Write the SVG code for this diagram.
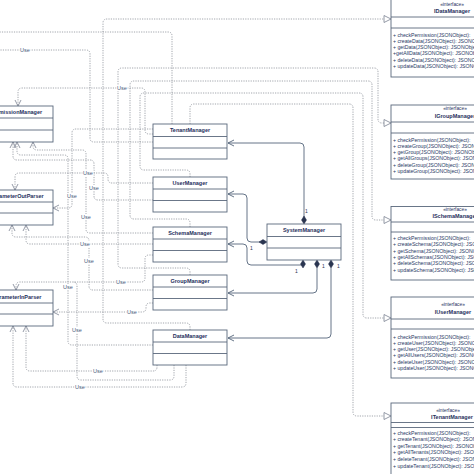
<svg xmlns="http://www.w3.org/2000/svg" width="474" height="474" viewBox="0 0 474 474">
<style>
.box{fill:#fff;stroke:#5a687c;stroke-width:0.9}
.sep{stroke:#5a687c;stroke-width:0.9}
.nm{font-family:"Liberation Sans",Arial,sans-serif;font-size:5.5px;font-weight:bold;fill:#1f2f5c;text-anchor:middle}
.st{font-family:"Liberation Sans",Arial,sans-serif;font-size:4.8px;fill:#1f2f5c;text-anchor:middle}
.mt{font-family:"Liberation Sans",Arial,sans-serif;font-size:5.2px;fill:#2a3a66}
.dep{fill:none;stroke:#8a8f98;stroke-width:0.8;stroke-dasharray:1.2 1.2}
.arr{fill:none;stroke:#7a8090;stroke-width:0.8}
.tri{fill:#fff;stroke:#7a8090;stroke-width:0.8}
.comp{fill:none;stroke:#55657b;stroke-width:0.9}
.dia{fill:#2a3550;stroke:#2a3550;stroke-width:0.5}
.one{font-family:"Liberation Sans",Arial,sans-serif;font-size:5px;fill:#2a3550}
.use{font-family:"Liberation Sans",Arial,sans-serif;font-size:5.5px;fill:#4a5a7a;text-anchor:middle}
.lbg{fill:#fff}
</style>
<rect x="0" y="0" width="474" height="474" fill="#fff"/>

<g id="connectors">
  <!-- realizations -->
  <path class="dep" d="M190,330 V327 Q190,323 186,323 H107 Q103,323 103,319 V23 Q103,19 107,19 H384"/>
  <path class="dep" d="M190,275 V272 Q190,268 186,268 H122 Q118,268 118,264 V72 Q118,68 122,68 H374 Q378,68 378,72 V119 Q378,123 382,123 H384"/>
  <path class="dep" d="M190,227 V223 Q190,219 186,219 H134 Q130,219 130,215 V85 Q130,81 134,81 H368 Q372,81 372,85 V216 Q372,220 376,220 H384"/>
  <path class="dep" d="M190,177 V174 Q190,170 186,170 H144 Q140,170 140,166 V97 Q140,93 144,93 H359 Q363,93 363,97 V314 Q363,318 367,318 H384"/>
  <path class="dep" d="M190,124 V108 Q190,104 194,104 H349 Q353,104 353,108 V412 Q353,416 357,416 H384"/>
  <polygon class="tri" points="391,19 384,15.5 384,22.5"/>
  <polygon class="tri" points="391,123 384,119.5 384,126.5"/>
  <polygon class="tri" points="391,220 384,216.5 384,223.5"/>
  <polygon class="tri" points="391,318 384,314.5 384,321.5"/>
  <polygon class="tri" points="391,416 384,412.5 384,419.5"/>

  <!-- use dependencies -->
  <path class="dep" d="M153,142 H94 Q90,142 90,138 V54 Q90,50 86,50 H-2"/>
  <path class="dep" d="M172,124 V36 Q172,32 168,32 H-2"/>
  <path class="dep" d="M153,134 H149 Q145,134 145,130 V92 Q145,88 141,88 H22 Q18,88 18,92 V106"/>
  <path class="dep" d="M153,183 H112 Q108,183 108,179 V177 Q108,173 104,173 H19 Q15,173 15,177 V190"/>
  <path class="dep" d="M153,129 H76 Q72,129 72,133 V204 Q72,208 68,208 H53"/>
  <path class="dep" d="M153,200 H98 Q94,200 94,196 V164 Q94,160 90,160 H17 Q13,160 13,156 V142"/>
  <path class="dep" d="M153,233 H90 Q86,233 86,229 V154 Q86,150 82,150 H37 Q33,150 33,146 V142"/>
  <path class="dep" d="M153,345 H72 Q68,345 68,341 V159 Q68,155 64,155 H21 Q17,155 17,151 V142"/>
  <path class="dep" d="M153,244 H30 Q26,244 26,240 V225"/>
  <path class="dep" d="M153,290 H93 Q89,290 89,286 V241 Q89,237 85,237 H16 Q12,237 12,233 V225"/>
  <path class="dep" d="M153,255 H149 Q145,255 145,259 V278 Q145,282 141,282 H20 Q16,282 16,286 V290"/>
  <path class="dep" d="M174,365 V376 Q174,380 170,380 H81 Q77,380 77,376 V286 Q77,282 73,282"/>
  <path class="dep" d="M153,303 H150 Q146,303 146,307 V308 Q146,312 142,312 H53"/>
  <path class="dep" d="M186,365 V383 Q186,387 182,387 H17 Q13,387 13,383 V326"/>
  <path class="dep" d="M157,365 V367 Q157,371 153,371 H30 Q26,371 26,367 V326"/>

  <polyline class="arr" points="15,100 18,106 21,100"/>
  <polyline class="arr" points="12,184 15,190 18,184"/>
  <polyline class="arr" points="13,284 16,290 19,284"/>
  <polyline class="arr" points="59,205 53,208 59,211"/>
  <polyline class="arr" points="59,309 53,312 59,315"/>
  <polyline class="arr" points="10,148 13,142 16,148"/>
  <polyline class="arr" points="14,148 17,142 20,148"/>
  <polyline class="arr" points="30,148 33,142 36,148"/>
  <polyline class="arr" points="9,231 12,225 15,231"/>
  <polyline class="arr" points="23,231 26,225 29,231"/>
  <polyline class="arr" points="10,332 13,326 16,332"/>
  <polyline class="arr" points="23,332 26,326 29,332"/>

  <g>
    <rect class="lbg" x="19.5" y="47" width="11" height="6"/><text class="use" x="25" y="52">Use</text>
    <rect class="lbg" x="116.5" y="85" width="11" height="6"/><text class="use" x="122" y="90">Use</text>
    <rect class="lbg" x="82.5" y="170" width="11" height="6"/><text class="use" x="88" y="175">Use</text>
    <rect class="lbg" x="88.5" y="185" width="11" height="6"/><text class="use" x="94" y="190">Use</text>
    <rect class="lbg" x="66.5" y="193" width="11" height="6"/><text class="use" x="72" y="198">Use</text>
    <rect class="lbg" x="80.5" y="214" width="11" height="6"/><text class="use" x="86" y="219">Use</text>
    <rect class="lbg" x="79.5" y="241" width="11" height="6"/><text class="use" x="85" y="246">Use</text>
    <rect class="lbg" x="83.5" y="258" width="11" height="6"/><text class="use" x="89" y="263">Use</text>
    <rect class="lbg" x="115.5" y="279" width="11" height="6"/><text class="use" x="121" y="284">Use</text>
    <rect class="lbg" x="62.5" y="284" width="11" height="6"/><text class="use" x="68" y="289">Use</text>
    <rect class="lbg" x="126.5" y="309" width="11" height="6"/><text class="use" x="132" y="314">Use</text>
    <rect class="lbg" x="71.5" y="327" width="11" height="6"/><text class="use" x="77" y="332">Use</text>
    <rect class="lbg" x="92.5" y="368" width="11" height="6"/><text class="use" x="98" y="373">Use</text>
    <rect class="lbg" x="74.5" y="384" width="11" height="6"/><text class="use" x="80" y="389">Use</text>
  </g>

  <!-- compositions -->
  <path class="comp" d="M304,220 V147 Q304,143 300,143 H228"/>
  <path class="comp" d="M228,194 H243 Q247,194 247,198 V238 Q247,242 251,242 H260"/>
  <path class="comp" d="M228,244 H243 Q247,244 247,248 V261 Q247,265 251,265 H303"/>
  <path class="comp" d="M228,293 H313 Q317,293 317,289 V268"/>
  <path class="comp" d="M228,338 H327 Q331,338 331,334 V268"/>
  <polyline class="comp" points="234,140 228,143 234,146"/>
  <polyline class="comp" points="234,191 228,194 234,197"/>
  <polyline class="comp" points="234,241 228,244 234,247"/>
  <polyline class="comp" points="234,290 228,293 234,296"/>
  <polyline class="comp" points="234,335 228,338 234,341"/>
  <polygon class="dia" points="304,224 301.5,220 304,216 306.5,220"/>
  <polygon class="dia" points="267,242 263,239.5 259,242 263,244.5"/>
  <polygon class="dia" points="303,260 305.5,264 303,268 300.5,264"/>
  <polygon class="dia" points="317,260 319.5,264 317,268 314.5,264"/>
  <polygon class="dia" points="331,260 333.5,264 331,268 328.5,264"/>
  <text class="one" x="305" y="213">1</text>
  <text class="one" x="250" y="250">1</text>
  <text class="one" x="295" y="273">1</text>
  <text class="one" x="322" y="268">1</text>
  <text class="one" x="337" y="268">1</text>
</g>

<g id="PermissionManager"><rect class="box" x="-21" y="106" width="74" height="36"/><line class="sep" x1="-21" y1="118" x2="53" y2="118"/><line class="sep" x1="-21" y1="130" x2="53" y2="130"/><text class="nm" x="16" y="114">PermissionManager</text></g>
<g id="ParameterOutParser"><rect class="box" x="-21" y="190" width="74" height="35"/><line class="sep" x1="-21" y1="202" x2="53" y2="202"/><line class="sep" x1="-21" y1="213" x2="53" y2="213"/><text class="nm" x="17" y="198">ParameterOutParser</text></g>
<g id="ParameterInParser"><rect class="box" x="-21" y="290" width="74" height="36"/><line class="sep" x1="-21" y1="303" x2="53" y2="303"/><line class="sep" x1="-21" y1="314" x2="53" y2="314"/><text class="nm" x="17" y="298.5">ParameterInParser</text></g>

<g id="TenantManager"><rect class="box" x="153" y="124" width="74" height="35"/><line class="sep" x1="153" y1="136.5" x2="227" y2="136.5"/><line class="sep" x1="153" y1="148" x2="227" y2="148"/><text class="nm" x="190" y="132.2">TenantManager</text></g>
<g id="UserManager"><rect class="box" x="153" y="177" width="74" height="35"/><line class="sep" x1="153" y1="189" x2="227" y2="189"/><line class="sep" x1="153" y1="200.5" x2="227" y2="200.5"/><text class="nm" x="190" y="185">UserManager</text></g>
<g id="SchemaManager"><rect class="box" x="153" y="227" width="74" height="35"/><line class="sep" x1="153" y1="239" x2="227" y2="239"/><line class="sep" x1="153" y1="250.5" x2="227" y2="250.5"/><text class="nm" x="190" y="235">SchemaManager</text></g>
<g id="GroupManager"><rect class="box" x="153" y="275" width="74" height="35"/><line class="sep" x1="153" y1="287" x2="227" y2="287"/><line class="sep" x1="153" y1="298.5" x2="227" y2="298.5"/><text class="nm" x="190" y="283">GroupManager</text></g>
<g id="DataManager"><rect class="box" x="153" y="330" width="74" height="35"/><line class="sep" x1="153" y1="342" x2="227" y2="342"/><line class="sep" x1="153" y1="353.5" x2="227" y2="353.5"/><text class="nm" x="190" y="338">DataManager</text></g>
<g id="SystemManager"><rect class="box" x="267" y="224" width="74" height="36"/><line class="sep" x1="267" y1="236.5" x2="341" y2="236.5"/><line class="sep" x1="267" y1="248" x2="341" y2="248"/><text class="nm" x="304" y="232.2">SystemManager</text></g>

<g id="IDataManager"><rect class="box" x="391" y="-1" width="130" height="78"/><line class="sep" x1="391" y1="17" x2="521" y2="17"/><line class="sep" x1="391" y1="28" x2="521" y2="28"/>
<text class="st" x="452" y="5.7">«interface»</text><text class="nm" x="452" y="13">IDataManager</text>
<text class="mt" x="393" y="36.8">+ checkPermission(JSONObject):</text>
<text class="mt" x="393" y="43">+ createData(JSONObject): JSONObject</text>
<text class="mt" x="393" y="49.2">+ getData(JSONObject): JSONObject</text>
<text class="mt" x="393" y="55.4">+getAllData(JSONObject): JSONObject</text>
<text class="mt" x="393" y="61.6">+ deleteData(JSONObject): JSONObject</text>
<text class="mt" x="393" y="67.8">+ updateData(JSONObject): JSONObject</text></g>

<g id="IGroupManager"><rect class="box" x="391" y="105" width="130" height="74"/><line class="sep" x1="391" y1="122" x2="521" y2="122"/><line class="sep" x1="391" y1="133" x2="521" y2="133"/>
<text class="st" x="455" y="110.2">«interface»</text><text class="nm" x="455" y="118">IGroupManager</text>
<text class="mt" x="393" y="141.8">+ checkPermission(JSONObject):</text>
<text class="mt" x="393" y="148">+ createGroup(JSONObject): JSONObject</text>
<text class="mt" x="393" y="154.2">+ getGroup(JSONObject): JSONObject</text>
<text class="mt" x="393" y="160.4">+ getAllGroups(JSONObject): JSONObject</text>
<text class="mt" x="393" y="166.6">+ deleteGroup(JSONObject): JSONObject</text>
<text class="mt" x="393" y="172.8">+ updateGroup(JSONObject): JSONObject</text></g>

<g id="ISchemaManager"><rect class="box" x="391" y="206.5" width="130" height="73.5"/><line class="sep" x1="391" y1="222" x2="521" y2="222"/><line class="sep" x1="391" y1="232" x2="521" y2="232"/>
<text class="st" x="455" y="210.8">«interface»</text><text class="nm" x="455" y="217.5">ISchemaManager</text>
<text class="mt" x="393" y="239.8">+ checkPermission(JSONObject):</text>
<text class="mt" x="393" y="246.2">+ createSchema(JSONObject): JSONObject</text>
<text class="mt" x="393" y="252.6">+ getSchema(JSONObject): JSONObject</text>
<text class="mt" x="393" y="259">+ getAllSchemas(JSONObject): JSONObject</text>
<text class="mt" x="393" y="265.4">+ deleteSchema(JSONObject): JSONObject</text>
<text class="mt" x="393" y="271.8">+ updateSchema(JSONObject): JSONObject</text></g>

<g id="IUserManager"><rect class="box" x="391" y="297" width="130" height="81"/><line class="sep" x1="391" y1="319" x2="521" y2="319"/><line class="sep" x1="391" y1="329" x2="521" y2="329"/>
<text class="st" x="453" y="305.8">«interface»</text><text class="nm" x="453" y="313.5">IUserManager</text>
<text class="mt" x="393" y="338.8">+ checkPermission(JSONObject):</text>
<text class="mt" x="393" y="345">+ createUser(JSONObject): JSONObject</text>
<text class="mt" x="393" y="351.2">+ getUser(JSONObject): JSONObject</text>
<text class="mt" x="393" y="357.4">+ getAllUsers(JSONObject): JSONObject</text>
<text class="mt" x="393" y="363.6">+ deleteUser(JSONObject): JSONObject</text>
<text class="mt" x="393" y="369.8">+ updateUser(JSONObject): JSONObject</text></g>

<g id="ITenantManager"><rect class="box" x="391" y="403" width="130" height="80"/><line class="sep" x1="391" y1="422.5" x2="521" y2="422.5"/><line class="sep" x1="391" y1="427.5" x2="521" y2="427.5"/>
<text class="st" x="448" y="411.8">«interface»</text><text class="nm" x="452" y="419">ITenantManager</text>
<text class="mt" x="393" y="434.5">+ checkPermission(JSONObject):</text>
<text class="mt" x="393" y="441.1">+ createTenant(JSONObject): JSONObject</text>
<text class="mt" x="393" y="447.7">+ getTenant(JSONObject): JSONObject</text>
<text class="mt" x="393" y="454.3">+ getAllTenants(JSONObject): JSONObject</text>
<text class="mt" x="393" y="460.9">+ deleteTenant(JSONObject): JSONObject</text>
<text class="mt" x="393" y="467.5">+ updateTenant(JSONObject): JSONObject</text></g>
</svg>
